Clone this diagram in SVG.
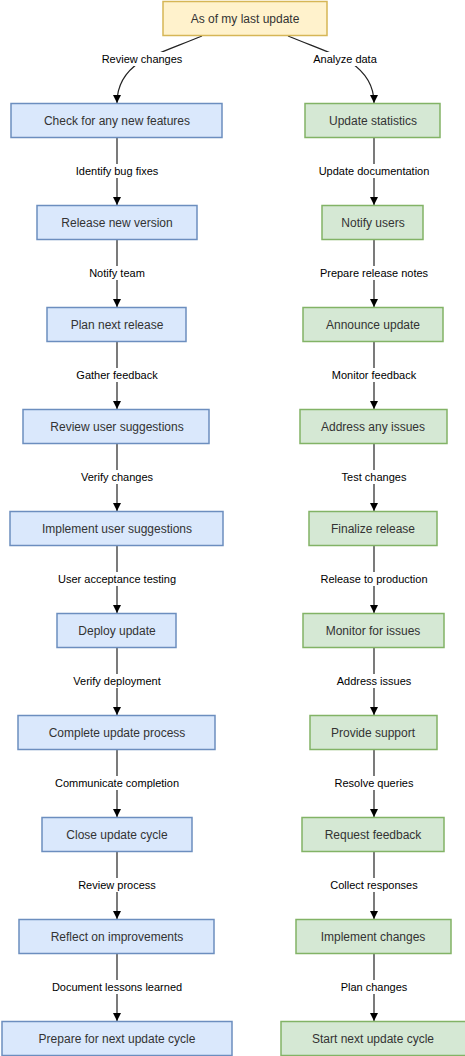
<svg xmlns="http://www.w3.org/2000/svg" width="465" height="1056" viewBox="0 0 465 1056">
<style>
.b{fill:#dae8fc;stroke:#6c8ebf;stroke-width:1.5}
.g{fill:#d5e8d4;stroke:#82b366;stroke-width:1.5}
.y{fill:#fff2cc;stroke:#d6b656;stroke-width:1.5}
.t{font-family:"Liberation Sans",Arial,sans-serif;font-size:12px;fill:#333;text-anchor:middle;dominant-baseline:central}
.e{fill:none;stroke:#222;stroke-width:1.2}
.l{font-family:"Liberation Sans",Arial,sans-serif;font-size:11px;fill:#000;text-anchor:middle;dominant-baseline:central}
.lb{fill:#fff}
</style>
<defs>
<marker id="a" viewBox="0 0 10 10" refX="10" refY="5" markerWidth="8" markerHeight="8" markerUnits="userSpaceOnUse" orient="auto">
<path d="M0,0 L10,5 L0,10 z" fill="#000"/>
</marker>
</defs>
<rect width="465" height="1056" fill="#fff"/>
<g id="connectors">
<path class="e" d="M202,36 C175,47 150,56 140,62 C125,72 117,85 117,103" marker-end="url(#a)"/>
<path class="e" d="M288,36 C315,47 340,56 350,62 C365,72 374,85 374,103" marker-end="url(#a)"/>
<path class="e" d="M117,137 V205" marker-end="url(#a)"/>
<path class="e" d="M117,239 V307" marker-end="url(#a)"/>
<path class="e" d="M117,341 V409" marker-end="url(#a)"/>
<path class="e" d="M117,443 V511" marker-end="url(#a)"/>
<path class="e" d="M117,545 V613" marker-end="url(#a)"/>
<path class="e" d="M117,647 V715" marker-end="url(#a)"/>
<path class="e" d="M117,749 V817" marker-end="url(#a)"/>
<path class="e" d="M117,851 V919" marker-end="url(#a)"/>
<path class="e" d="M117,953 V1021" marker-end="url(#a)"/>
<path class="e" d="M374,137 V205" marker-end="url(#a)"/>
<path class="e" d="M374,239 V307" marker-end="url(#a)"/>
<path class="e" d="M374,341 V409" marker-end="url(#a)"/>
<path class="e" d="M374,443 V511" marker-end="url(#a)"/>
<path class="e" d="M374,545 V613" marker-end="url(#a)"/>
<path class="e" d="M374,647 V715" marker-end="url(#a)"/>
<path class="e" d="M374,749 V817" marker-end="url(#a)"/>
<path class="e" d="M374,851 V919" marker-end="url(#a)"/>
<path class="e" d="M374,953 V1021" marker-end="url(#a)"/>
<rect class="lb" x="100" y="52" width="86" height="14"/><text class="l" x="142" y="59">Review changes</text>
<rect class="lb" x="311" y="52" width="68" height="14"/><text class="l" x="345" y="59">Analyze data</text>
<rect class="lb" x="71" y="164" width="92" height="14"/><text class="l" x="117" y="171">Identify bug fixes</text>
<rect class="lb" x="86" y="266" width="62" height="14"/><text class="l" x="117" y="273">Notify team</text>
<rect class="lb" x="71" y="368" width="92" height="14"/><text class="l" x="117" y="375">Gather feedback</text>
<rect class="lb" x="76" y="470" width="82" height="14"/><text class="l" x="117" y="477">Verify changes</text>
<rect class="lb" x="53" y="572" width="128" height="14"/><text class="l" x="117" y="579">User acceptance testing</text>
<rect class="lb" x="68" y="674" width="98" height="14"/><text class="l" x="117" y="681">Verify deployment</text>
<rect class="lb" x="55" y="776" width="124" height="14"/><text class="l" x="117" y="783">Communicate completion</text>
<rect class="lb" x="73" y="878" width="88" height="14"/><text class="l" x="117" y="885">Review process</text>
<rect class="lb" x="49" y="980" width="136" height="14"/><text class="l" x="117" y="987">Document lessons learned</text>
<rect class="lb" x="315" y="164" width="118" height="14"/><text class="l" x="374" y="171">Update documentation</text>
<rect class="lb" x="315" y="266" width="118" height="14"/><text class="l" x="374" y="273">Prepare release notes</text>
<rect class="lb" x="327" y="368" width="94" height="14"/><text class="l" x="374" y="375">Monitor feedback</text>
<rect class="lb" x="337" y="470" width="74" height="14"/><text class="l" x="374" y="477">Test changes</text>
<rect class="lb" x="316" y="572" width="116" height="14"/><text class="l" x="374" y="579">Release to production</text>
<rect class="lb" x="331" y="674" width="86" height="14"/><text class="l" x="374" y="681">Address issues</text>
<rect class="lb" x="331" y="776" width="86" height="14"/><text class="l" x="374" y="783">Resolve queries</text>
<rect class="lb" x="325" y="878" width="98" height="14"/><text class="l" x="374" y="885">Collect responses</text>
<rect class="lb" x="336" y="980" width="76" height="14"/><text class="l" x="374" y="987">Plan changes</text>
</g>
<g id="n0"><rect class="y" x="163" y="1.5" width="164" height="34"/><text class="t" x="245" y="18.5">As of my last update</text></g>
<g id="l1"><rect class="b" x="11" y="103.5" width="211" height="34"/><text class="t" x="117" y="120.5">Check for any new features</text></g>
<g id="l2"><rect class="b" x="37" y="205.5" width="160" height="34"/><text class="t" x="117" y="222.5">Release new version</text></g>
<g id="l3"><rect class="b" x="47" y="307.5" width="139" height="34"/><text class="t" x="117" y="324.5">Plan next release</text></g>
<g id="l4"><rect class="b" x="23" y="409.5" width="186" height="34"/><text class="t" x="117" y="426.5">Review user suggestions</text></g>
<g id="l5"><rect class="b" x="10" y="511.5" width="213" height="34"/><text class="t" x="117" y="528.5">Implement user suggestions</text></g>
<g id="l6"><rect class="b" x="57" y="613.5" width="119" height="34"/><text class="t" x="117" y="630.5">Deploy update</text></g>
<g id="l7"><rect class="b" x="18" y="715.5" width="197" height="34"/><text class="t" x="117" y="732.5">Complete update process</text></g>
<g id="l8"><rect class="b" x="42" y="817.5" width="150" height="34"/><text class="t" x="117" y="834.5">Close update cycle</text></g>
<g id="l9"><rect class="b" x="19" y="919.5" width="195" height="34"/><text class="t" x="117" y="936.5">Reflect on improvements</text></g>
<g id="l10"><rect class="b" x="2" y="1021.5" width="230" height="34"/><text class="t" x="117" y="1038.5">Prepare for next update cycle</text></g>
<g id="r1"><rect class="g" x="305" y="103.5" width="135" height="34"/><text class="t" x="373" y="120.5">Update statistics</text></g>
<g id="r2"><rect class="g" x="322" y="205.5" width="101" height="34"/><text class="t" x="373" y="222.5">Notify users</text></g>
<g id="r3"><rect class="g" x="303" y="307.5" width="140" height="34"/><text class="t" x="373" y="324.5">Announce update</text></g>
<g id="r4"><rect class="g" x="300" y="409.5" width="147" height="34"/><text class="t" x="373" y="426.5">Address any issues</text></g>
<g id="r5"><rect class="g" x="309" y="511.5" width="128" height="34"/><text class="t" x="373" y="528.5">Finalize release</text></g>
<g id="r6"><rect class="g" x="303" y="613.5" width="141" height="34"/><text class="t" x="373" y="630.5">Monitor for issues</text></g>
<g id="r7"><rect class="g" x="310" y="715.5" width="127" height="34"/><text class="t" x="373" y="732.5">Provide support</text></g>
<g id="r8"><rect class="g" x="302" y="817.5" width="142" height="34"/><text class="t" x="373" y="834.5">Request feedback</text></g>
<g id="r9"><rect class="g" x="296" y="919.5" width="155" height="34"/><text class="t" x="373" y="936.5">Implement changes</text></g>
<g id="r10"><rect class="g" x="281" y="1021.5" width="186" height="34"/><text class="t" x="373" y="1038.5">Start next update cycle</text></g>
</svg>
